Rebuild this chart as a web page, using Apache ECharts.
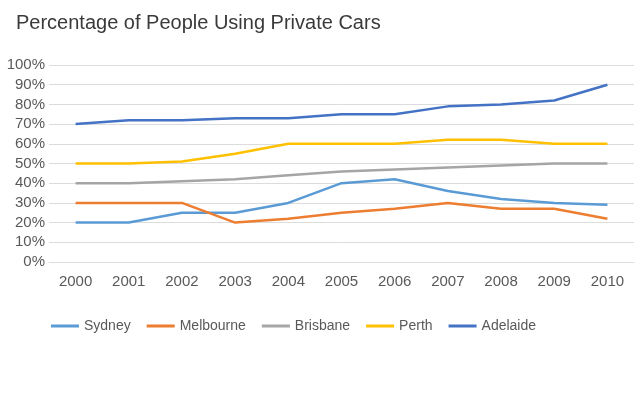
<!DOCTYPE html>
<html>
<head>
<meta charset="utf-8">
<script src="https://cdn.jsdelivr.net/npm/echarts@6/dist/echarts.min.js"></script>
<style>
  html, body { margin: 0; padding: 0; background: #fff; }
  #chart { width: 640px; height: 405px; }
</style>
</head>
<body>
<div id="chart"></div>
<script>
// 都市別 自家用車利用率の推移
const years = ['2000', '2001', '2002', '2003', '2004', '2005', '2006', '2007', '2008', '2009', '2010'];
const sydney = [20, 20, 25, 25, 30, 40, 42, 36, 32, 30, 29];
const melbourne = [30, 30, 30, 20, 22, 25, 27, 30, 27, 27, 22];
const brisbane = [40, 40, 41, 42, 44, 46, 47, 48, 49, 50, 50];
const perth = [50, 50, 51, 55, 60, 60, 60, 62, 62, 60, 60];
const adelaide = [70, 72, 72, 73, 73, 75, 75, 79, 80, 82, 90];

const FONT = '"Liberation Sans", Arial, sans-serif';
const LABEL = '#595959';

const chart = echarts.init(document.getElementById('chart'), null, { renderer: 'canvas' });

const line = (name, data, color) => ({
  name,
  type: 'line',
  data,
  showSymbol: false,
  symbol: 'none',
  lineStyle: { color, width: 2.5 },
  itemStyle: { color },
});

chart.setOption({
  backgroundColor: '#fff',
  animation: false,
  textStyle: { fontFamily: FONT },
  title: {
    text: 'Percentage of People Using Private Cars',
    left: 11,
    top: 8,
    textStyle: { color: '#3a3a3a', fontSize: 20, fontWeight: 'normal', fontFamily: FONT },
  },
  legend: {
    top: 314,
    left: 46,
    itemWidth: 28,
    itemHeight: 3,
    itemGap: 16,
    icon: 'rect',
    textStyle: { color: LABEL, fontSize: 14, fontFamily: FONT },
    data: ['Sydney', 'Melbourne', 'Brisbane', 'Perth', 'Adelaide'],
  },
  grid: { left: 49, right: 6, top: 65, bottom: 143, containLabel: false },
  xAxis: {
    type: 'category',
    data: years,
    boundaryGap: true,
    axisLine: { lineStyle: { color: '#dcdcdc' } },
    axisTick: { show: false },
    axisLabel: { color: LABEL, fontSize: 15, margin: 12, fontFamily: FONT },
  },
  yAxis: {
    type: 'value',
    min: 0,
    max: 100,
    interval: 10,
    axisLine: { show: false },
    axisTick: { show: false },
    axisLabel: { color: LABEL, fontSize: 15, margin: 4, formatter: '{value}%', fontFamily: FONT },
    splitLine: { lineStyle: { color: '#dcdcdc', width: 1 } },
  },
  series: [
    line('Sydney', sydney, '#5b9bd5'),
    line('Melbourne', melbourne, '#ed7d31'),
    line('Brisbane', brisbane, '#a5a5a5'),
    line('Perth', perth, '#ffc000'),
    line('Adelaide', adelaide, '#4472c4'),
  ],
});
</script>
</body>
</html>
